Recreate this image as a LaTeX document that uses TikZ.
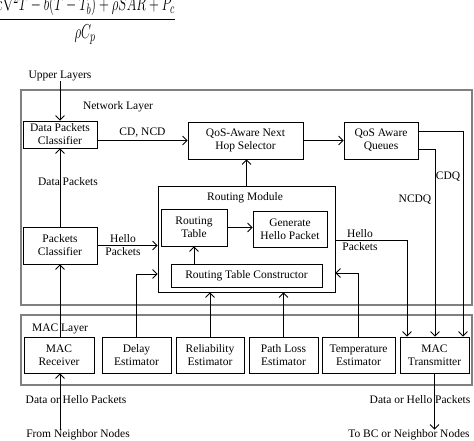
\documentclass[tikz,border=0pt]{standalone}
\usepackage{fontspec}
\setmainfont{Liberation Serif}
\usetikzlibrary{arrows.meta}
\begin{document}
\begin{tikzpicture}[x=1pt,y=-1pt,
    every node/.style={font=\fontsize{11.5}{13}\selectfont},
    blk/.style={draw,line width=.8pt,align=center,inner sep=0pt},
    lyr/.style={draw=gray,line width=1.2pt},
    lbl/.style={align=center,inner sep=0pt},
    arr/.style={-{Straight Barb[length=4.5pt,width=9pt]},line width=.8pt}]
    \useasboundingbox (0,0) rectangle (474,440);
    \node[inner sep=0pt,anchor=east,font=\fontsize{15}{18}\selectfont] (eq) at (176,19) {\scalebox{.9}[1.4]{$\displaystyle\frac{k\nabla^2T-b(T-T_b)+\rho SAR+P_c}{\rho C_p}$}};

    \draw[lyr] (21,90) rectangle (472,305);
    \draw[lyr] (21,315) rectangle (472,385);
    \node[lbl] (net) at (118,107) {Network Layer};
    \node[lbl] (mac) at (60,329) {MAC Layer};
    \node[lbl] (up) at (60,76) {Upper Layers};

    \node[blk,minimum width=74,minimum height=27] (dpc) at (60,134.5) {Data Packets\\Classifier};
    \node[blk,minimum width=115,minimum height=37] (hop) at (245.5,140.5) {QoS-Aware Next\\Hop Selector};
    \node[blk,minimum width=74,minimum height=37] (que) at (381,140.5) {QoS Aware\\Queues};
    \node[blk,minimum width=74,minimum height=37] (pc) at (60,245.5) {Packets\\Classifier};

    \node[blk,minimum width=177,minimum height=106] (rm) at (246.5,239) {};
    \node[lbl] (rmt) at (245,198) {Routing Module};
    \node[blk,minimum width=66,minimum height=37] (rt) at (194,227.5) {Routing\\Table};
    \node[blk,minimum width=74,minimum height=36] (ghp) at (290,229) {Generate\\Hello Packet};
    \node[blk,minimum width=151,minimum height=23] (rtc) at (246.5,275.5) {Routing Table Constructor};

    \node[blk,minimum width=70,minimum height=36] (macr) at (59,355) {MAC\\Receiver};
    \node[blk,minimum width=69,minimum height=36] (del) at (136.5,355) {Delay\\Estimator};
    \node[blk,minimum width=68,minimum height=36] (rel) at (210,355) {Reliability\\Estimator};
    \node[blk,minimum width=69,minimum height=36] (pl) at (283.5,355) {Path Loss\\Estimator};
    \node[blk,minimum width=73,minimum height=36] (tmp) at (358.5,355) {Temperature\\Estimator};
    \node[blk,minimum width=69,minimum height=36] (mact) at (434.5,355) {MAC\\Transmitter};

    \node[lbl] (fnn) at (78,435) {From Neighbor Nodes};
    \node[lbl] (tbc) at (409,435) {To BC or Neighbor Nodes};
    \node[lbl] (dhl) at (76,400) {Data or Hello Packets};
    \node[lbl] (dhr) at (420,400) {Data or Hello Packets};
    \node[lbl] (dp) at (68,182) {Data Packets};
    \node[lbl] (hpl) at (123,245.5) {Hello\\Packets};
    \node[lbl] (hpr) at (360,240) {Hello\\Packets};
    \node[lbl] (cdql) at (448,177) {CDQ};
    \node[lbl] (ncdql) at (415,200) {NCDQ};

    \coordinate (cdq) at (463,131);
    \coordinate (ncdq) at (435,149);
    \coordinate (hel) at (407,240);
    \coordinate (dl) at (136.5,274);
    \coordinate (tp) at (358.5,273);

    \draw[arr] (up.south) -- (dpc.north);
    \draw[arr] (dpc.east |- hop.west) -- node[lbl,above=3pt] (cd) {CD, NCD} (hop.west);
    \draw[arr] (hop.east) -- (que.west);
    \draw[arr] (que.east |- cdq) -- (cdq) -- (cdq |- mact.north);
    \draw[arr] (que.east |- ncdq) -- (ncdq) -- (ncdq |- mact.north);
    \draw[arr] (rm.east |- hel) -- (hel) -- (hel |- mact.north);
    \draw[arr] (rm.north) -- (rm.north |- hop.south);
    \draw[arr] (rt.east) -- (rt.east -| ghp.west);
    \draw[arr] (rt.south |- rtc.north) -- (rt.south);
    \draw[arr] (pc.north) -- (dpc.south);
    \draw[arr] (pc.east) -- (pc.east -| rm.west);
    \draw[arr] (pc.south |- macr.north) -- (pc.south);
    \draw[arr] (del.north) -- (dl) -- (dl -| rm.west);
    \draw[arr] (rel.north) -- (rel.north |- rm.south);
    \draw[arr] (pl.north) -- (pl.north |- rm.south);
    \draw[arr] (tmp.north) -- (tp) -- (tp -| rm.east);
    \draw[arr] (fnn.north -| pc.south) -- (pc.south |- macr.south);
    \draw[arr] (mact.south) -- (mact.south |- tbc.north);
\end{tikzpicture}
\end{document}
